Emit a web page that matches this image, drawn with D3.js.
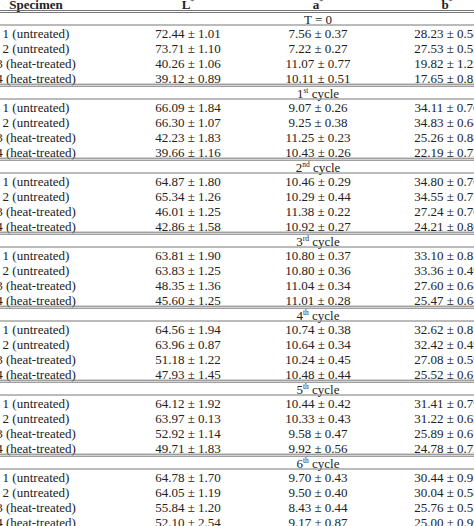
<!DOCTYPE html>
<html><head><meta charset="utf-8">
<script src="https://cdn.jsdelivr.net/npm/d3@7"></script>
<style>body{margin:0;background:#fff}svg{display:block}text{font-family:"Liberation Serif","DejaVu Serif",serif;fill:#222}</style>
</head><body><svg id="c" width="474" height="526"></svg>
<script>
const columns = ["Specimen","L","a","b"];
const specimens = ["1 (untreated)","2 (untreated)","3 (heat-treated)","4 (heat-treated)"];
const stages = [["T = 0",""],["1","st"],["2","nd"],["3","rd"],["4","th"],["5","th"],["6","th"]];
const Lvals = [
["72.44 ± 1.01","73.71 ± 1.10","40.26 ± 1.06","39.12 ± 0.89"],
["66.09 ± 1.84","66.30 ± 1.07","42.23 ± 1.83","39.66 ± 1.16"],
["64.87 ± 1.80","65.34 ± 1.26","46.01 ± 1.25","42.86 ± 1.58"],
["63.81 ± 1.90","63.83 ± 1.25","48.35 ± 1.36","45.60 ± 1.25"],
["64.56 ± 1.94","63.96 ± 0.87","51.18 ± 1.22","47.93 ± 1.45"],
["64.12 ± 1.92","63.97 ± 0.13","52.92 ± 1.14","49.71 ± 1.83"],
["64.78 ± 1.70","64.05 ± 1.19","55.84 ± 1.20","52.10 ± 2.54"]];
const avals = [
["7.56 ± 0.37","7.22 ± 0.27","11.07 ± 0.77","10.11 ± 0.51"],
["9.07 ± 0.26","9.25 ± 0.38","11.25 ± 0.23","10.43 ± 0.26"],
["10.46 ± 0.29","10.29 ± 0.44","11.38 ± 0.22","10.92 ± 0.27"],
["10.80 ± 0.37","10.80 ± 0.36","11.04 ± 0.34","11.01 ± 0.28"],
["10.74 ± 0.38","10.64 ± 0.34","10.24 ± 0.45","10.48 ± 0.44"],
["10.44 ± 0.42","10.33 ± 0.43","9.58 ± 0.47","9.92 ± 0.56"],
["9.70 ± 0.43","9.50 ± 0.40","8.43 ± 0.44","9.17 ± 0.87"]];
const bvals = [
["28.23 ± 0.58","27.53 ± 0.53","19.82 ± 1.23","17.65 ± 0.82"],
["34.11 ± 0.76","34.83 ± 0.64","25.26 ± 0.88","22.19 ± 0.72"],
["34.80 ± 0.70","34.55 ± 0.75","27.24 ± 0.70","24.21 ± 0.80"],
["33.10 ± 0.83","33.36 ± 0.49","27.60 ± 0.68","25.47 ± 0.64"],
["32.62 ± 0.81","32.42 ± 0.49","27.08 ± 0.59","25.52 ± 0.61"],
["31.41 ± 0.79","31.22 ± 0.62","25.89 ± 0.61","24.78 ± 0.72"],
["30.44 ± 0.91","30.04 ± 0.58","25.76 ± 0.57","25.00 ± 0.99"]];

const svg = d3.select("#c");
const x = d3.scaleOrdinal().domain(columns).range([36,188,318,447]);
const y = d3.scaleLinear().domain([0,35]).range([19,19+14.8*35]);
const fs = 13;
columns.forEach(c=>{
  const t = svg.append("text").attr("x",x(c)).attr("y",9).attr("text-anchor","middle")
    .attr("font-weight","bold").attr("font-size",fs);
  t.append("tspan").text(c);
  if(c!=="Specimen") t.append("tspan").text("*").attr("font-size",8).attr("dy",-5);
});
const line=(yy,dbl)=>{
  [0].concat(dbl?[2]:[]).forEach(o=>svg.append("line").attr("x1",0).attr("x2",474)
   .attr("y1",yy+o).attr("y2",yy+o).attr("stroke","#666").attr("stroke-width",0.9));
};
line(10.5,true);
stages.forEach((s,i)=>{
  const r = i*5;
  const t = svg.append("text").attr("x",x("a")).attr("y",y(r)+4.5).attr("text-anchor","middle")
    .attr("font-size",fs);
  if(s[1]){ t.append("tspan").text(s[0]); t.append("tspan").text(s[1]).attr("font-size",7.5).attr("dy",-5);
    t.append("tspan").text(" cycle").attr("dy",5);} else t.text(s[0]);
  line(y(r)+6,false);
  specimens.forEach((sp,j)=>{
    const yy=y(r+1+j)+4.5;
    [[ "Specimen",sp],["L",Lvals[i][j]],["a",avals[i][j]],["b",bvals[i][j]]].forEach(([c,v])=>{
      svg.append("text").attr("x",x(c)).attr("y",yy).attr("text-anchor","middle")
        .attr("font-size",fs).text(v);
    });
  });
  if(i<stages.length-1) line(y(r+4)+6,true);
});
</script></body></html>
